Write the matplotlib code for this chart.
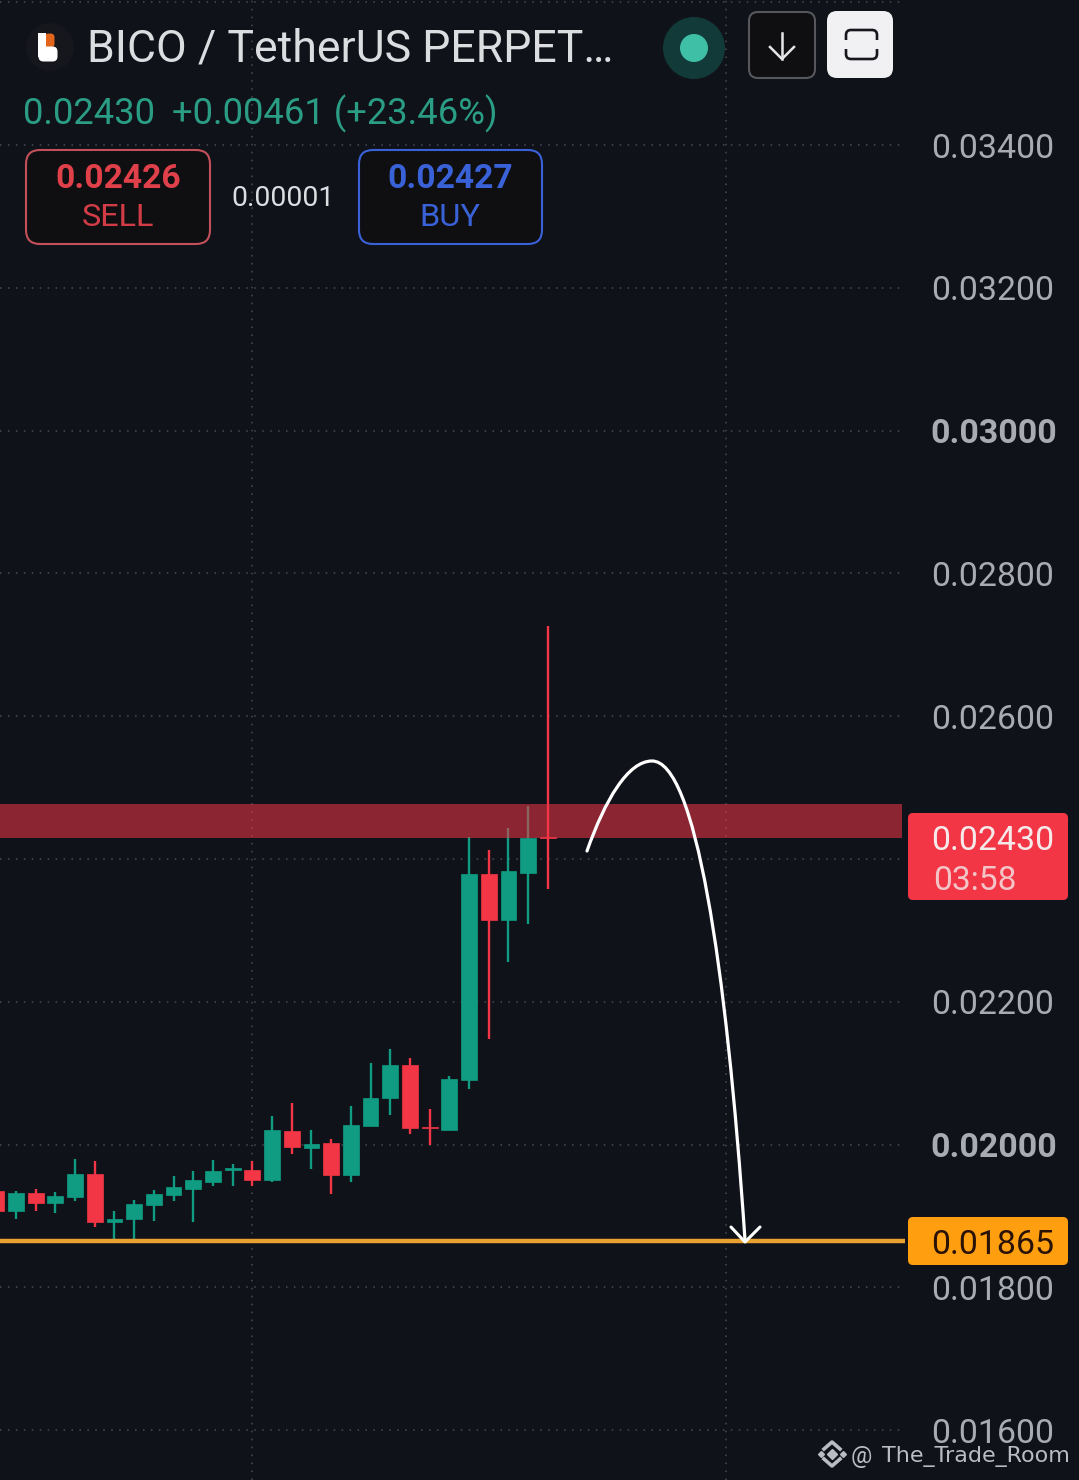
import matplotlib
matplotlib.use('Agg')
import matplotlib.pyplot as plt
from matplotlib.patches import Circle, FancyBboxPatch, PathPatch, Rectangle
from matplotlib.path import Path

plt.rcParams['font.family'] = ['Roboto', 'DejaVu Sans']

# candles, oldest first
opens = [.01935, .01907, .01932, .01918, .01927, .01959, .01892, .01896, .01915, .01929,
         .01938, .01948, .01964, .01964, .01950, .02019, .01995, .02002, .01957, .02026,
         .02065, .02111, .02025, .02020, .02090, .02379, .02314, .02380, .02431]
closes = [.01907, .01932, .01918, .01928, .01959, .01892, .01896, .01917, .01931, .01941,
          .01950, .01963, .01967, .01950, .02020, .01997, .02001, .01957, .02027, .02065,
          .02111, .02023, .02023, .02092, .02379, .02314, .02383, .02430, .02430]
highs = [.01938, .01935, .01938, .01934, .01980, .01977, .01907, .01922, .01936, .01956,
         .01963, .01978, .01973, .01977, .02040, .02058, .02020, .02008, .02054, .02114,
         .02134, .02121, .02050, .02096, .02431, .02412, .02443, .02474, .02727]
lows = [.01904, .01896, .01907, .01904, .01921, .01885, .01868, .01868, .01893, .01921,
        .01892, .01942, .01942, .01942, .01948, .01987, .01966, .01931, .01948, .02026,
        .02041, .02015, .02000, .02020, .02078, .02148, .02256, .02309, .02358]

price_ticks = [.036, .034, .032, .030, .028, .026, .024, .022, .020, .018, .016]
tick_labels = ['', '0.03400', '0.03200', '0.03000', '0.02800', '0.02600', '', '0.02200',
               '0.02000', '0.01800', '0.01600']
bold_labels = ['0.03000', '0.02000']
time_ticks = [13, 37.05]

zone_low = .02430
zone_high = .02477
target_price = .01865

BG = '#0f1219'
GREEN = '#0f9c82'
RED = '#f23645'
W, H = 1079, 1480

fig = plt.figure(figsize=(W / 100, H / 100), dpi=100, facecolor=BG)

# chart stops at x=905, the price labels sit outside it
ax = fig.add_axes([0, 0, 905 / W, 1])
ax.set_facecolor(BG)
ax.set_xlim(0.19, 46.13)
ax.set_ylim(.034 - 1335 / 71400, .034 + 145 / 71400)
for s in ax.spines.values():
    s.set_visible(False)

ax.set_yticks(price_ticks)
ax.set_yticklabels(tick_labels)
ax.yaxis.tick_right()
ax.tick_params(axis='y', length=0, pad=18.5, labelsize=24.4, labelcolor='#a8abb2')
for lab in ax.get_yticklabels():
    if lab.get_text() in bold_labels:
        lab.set_fontweight('bold')
ax.set_xticks(time_ticks)
ax.tick_params(axis='x', length=0, labelbottom=False)
ax.grid(True, color='#484c55', lw=1.1, linestyle=(0, (1, 4.2)), zorder=0)
ax.set_axisbelow(True)

xs = list(range(len(opens)))
cols = [GREEN if c >= o else RED for o, c in zip(opens, closes)]
ax.vlines(xs, lows, highs, colors=cols, lw=1.7, zorder=2)
ax.bar(xs, [abs(c - o) for o, c in zip(opens, closes)], bottom=[min(o, c) for o, c in zip(opens, closes)],
       width=0.8, color=cols, edgecolor=cols, lw=0.5, zorder=3)

ax.axhspan(zone_low, zone_high, xmin=0, xmax=902 / 905, color=RED, alpha=0.55, lw=0, zorder=4)
ax.axhline(target_price, color='#e8a030', lw=3.2, zorder=5)

# everything else is the app's interface, placed in pixels on a top layer
ui = fig.add_axes([0, 0, 1, 1])
ui.set_xlim(0, W)
ui.set_ylim(H, 0)
ui.axis('off')
ui.patch.set_alpha(0)


def box(x0, y0, x1, y1, fc, ec='none', lw=1.5, r=14):
    ui.add_patch(FancyBboxPatch((x0 + r, y0 + r), x1 - x0 - 2 * r, y1 - y0 - 2 * r,
                                boxstyle='round,pad=%d,rounding_size=%d' % (r, r), fc=fc, ec=ec, lw=lw))


def txt(x, y, s, size, color, ha='left', **kw):
    ui.text(x, y, s, fontsize=size, color=color, ha=ha, va='center_baseline', **kw)


# drawn trade idea
M, C = Path.MOVETO, Path.CURVE4
curve = Path([(587, 851), (605, 800), (628, 761), (652, 761), (695, 761), (726, 960), (745, 1240)],
             [M, C, C, C, C, C, C])
ui.add_patch(PathPatch(curve, fc='none', ec='white', lw=2.3, capstyle='round'))
ui.plot([731, 745, 760], [1227, 1242, 1227], color='white', lw=2.2, solid_capstyle='round')

# header
ui.add_patch(Circle((50, 47), 24, fc='#15171c', ec='none'))
ui.add_patch(FancyBboxPatch((47, 36), 5, 9, boxstyle='round,pad=2.5,rounding_size=4', fc='#e2651c', ec='none'))
ui.add_patch(FancyBboxPatch((41, 49), 14, 10, boxstyle='round,pad=2.5,rounding_size=5', fc='white', ec='none'))
ui.add_patch(Rectangle((38, 33), 8, 24, fc='white', ec='none'))
txt(87, 45, 'BICO / TetherUS PERPET…', 32.1, '#dcdde0')
txt(23, 110, '0.02430', 26.2, '#2a9d84')
txt(172, 110, '+0.00461 (+23.46%)', 26.2, '#2a9d84')

box(26, 150, 210, 244, '#0f0f11', '#c4505a', 1.5)
txt(118, 176, '0.02426', 24.2, '#e0404a', ha='center', fontweight='bold')
txt(118, 215, 'SELL', 23.4, '#d23c46', ha='center')
txt(283, 196, '0.00001', 20.4, '#dcdde0', ha='center')
box(359, 150, 542, 244, '#0f0f11', '#3a62d8', 1.5)
txt(450, 176, '0.02427', 24.2, '#3a62d8', ha='center', fontweight='bold')
txt(450, 215, 'BUY', 23.4, '#3a62d8', ha='center')

ui.add_patch(Circle((694, 48), 31, fc='#123a38', ec='none'))
ui.add_patch(Circle((694, 48), 14, fc='#3fbfa5', ec='none'))

box(749, 12, 815, 78, '#0f0f11', '#55575c', 1.5, r=9)
ui.plot([782, 782], [33, 59], color='#e6e6e8', lw=1.8)
ui.plot([770, 782, 794], [47, 59, 47], color='#e6e6e8', lw=1.8)
box(827, 11, 893, 78, '#f1f1f3', r=10)
Q = Path.CURVE3
L = Path.LINETO
for y_end, y_bend, y_edge in [(40, 35, 30), (49, 54, 59)]:
    p = Path([(846, y_end), (846, y_bend), (846, y_edge), (851, y_edge), (872, y_edge),
              (877, y_edge), (877, y_bend), (877, y_end)], [M, L, Q, Q, L, Q, Q, L])
    ui.add_patch(PathPatch(p, fc='none', ec='#15171c', lw=1.9))

# price tags on the axis
box(908, 813, 1068, 900, RED, r=5)
txt(1054, 838, '0.02430', 24.4, '#f6e9ea', ha='right')
txt(933, 877, '03:58', 24.2, '#f3c4c8')
box(908, 1217, 1068, 1265, '#ff9f0f', r=5)
txt(1054, 1242, '0.01865', 24.4, '#2a1205', ha='right')

# watermark
wm = '#b9bcc2'
ui.plot([832], [1454], marker='D', ms=5, color=wm)
ui.plot([821, 843], [1454, 1454], ls='none', marker='D', ms=3, color=wm)
ui.plot([824, 832, 840], [1449, 1442, 1449], color=wm, lw=2.6)
ui.plot([824, 832, 840], [1459, 1466, 1459], color=wm, lw=2.6)
txt(851, 1454, '@', 17, wm)
txt(1070, 1454, 'The_Trade_Room', 16, wm, ha='right', family=['DejaVu Sans'])

fig.savefig('out.png', dpi=100, facecolor=BG)
